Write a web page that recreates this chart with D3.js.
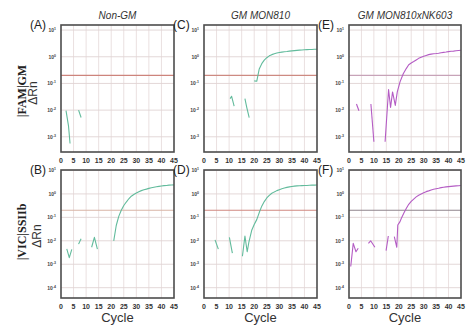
<!DOCTYPE html>
<html><head><meta charset="utf-8">
<script src="https://cdn.jsdelivr.net/npm/d3@7"></script>
<style>body{margin:0;background:#fff}svg{display:block}</style>
</head><body>
<svg id="c" width="474" height="332"></svg>
<script>
// ---- data ----
const columnTitles = ["Non-GM", "GM MON810", "GM MON810xNK603"];
const rowLabels = ["|FAM|GM", "|VIC|SSIIb"];
const panelLetters = ["A", "C", "E", "B", "D", "F"];
const xTicks = [0, 5, 10, 15, 20, 25, 30, 35, 40, 45];
const yTicksTop = [1, 0, -1, -2, -3];
const yTicksBottom = [1, 0, -1, -2, -3, -4];
const threshold = 0.2;
// segments of [cycle, ΔRn]
const panelA = [
  [[2, 0.0095], [3, 0.0025], [3.6, 0.00056]],
  [[7, 0.01], [8, 0.0053]]
];
const panelC = [
  [[10.4, 0.027], [11, 0.033], [12, 0.014]],
  [[16.3, 0.027], [17, 0.013], [18, 0.0052]],
  [[20, 0.125], [21, 0.12], [22, 0.35], [23, 0.55], [24, 0.75], [25, 0.92], [26, 1.08], [27, 1.2], [28, 1.3], [29, 1.38], [30, 1.44], [31, 1.49], [32, 1.53], [33, 1.57], [34, 1.62], [35, 1.66], [36, 1.7], [37, 1.74], [38, 1.77], [39, 1.8], [40, 1.83], [41, 1.85], [42, 1.87], [43, 1.88], [44, 1.9], [45, 1.91]]
];
const panelE = [
  [[3, 0.017], [4, 0.0095]],
  [[8.8, 0.017], [10, 0.00065]],
  [[14.5, 0.00065], [15.9, 0.059], [16.7, 0.0125], [17.5, 0.048], [18.6, 0.015], [19.4, 0.048], [20.5, 0.114], [21.8, 0.23], [23, 0.36], [24, 0.5], [25, 0.58], [26, 0.66], [27, 0.76], [28, 0.87], [29, 0.96], [30, 1.05], [31, 1.12], [32, 1.2], [33, 1.25], [34, 1.29], [35, 1.32], [36, 1.36], [37, 1.42], [38, 1.46], [39, 1.5], [40, 1.56], [41, 1.6], [42, 1.63], [43, 1.67], [44, 1.71], [45, 1.75]]
];
const panelB = [
  [[2.3, 0.0045], [3.3, 0.0019], [4.3, 0.0043]],
  [[7, 0.0072], [8, 0.0123]],
  [[12.2, 0.0053], [13.3, 0.014], [14.5, 0.0044]],
  [[21, 0.01], [22, 0.045], [23, 0.11], [24, 0.2], [25, 0.32], [26, 0.45], [27, 0.62], [28, 0.8], [29, 0.95], [30, 1.1], [31, 1.25], [32, 1.38], [33, 1.5], [34, 1.6], [35, 1.72], [36, 1.82], [37, 1.93], [38, 2.02], [39, 2.1], [40, 2.18], [41, 2.25], [42, 2.3], [43, 2.36], [44, 2.4], [45, 2.43]]
];
const panelD = [
  [[4.4, 0.011], [5.7, 0.0044]],
  [[10.1, 0.014], [11.3, 0.003]],
  [[15.3, 0.0022], [16.3, 0.016], [17.2, 0.0034], [17.9, 0.0091], [19, 0.028], [20, 0.05], [21, 0.08], [22, 0.16], [23, 0.3], [24, 0.47], [25, 0.67], [26, 0.87], [27, 1.07], [28, 1.22], [29, 1.38], [30, 1.52], [31, 1.65], [32, 1.78], [33, 1.9], [34, 2.0], [35, 2.08], [36, 2.15], [37, 2.2], [38, 2.23], [39, 2.25], [40, 2.27], [41, 2.3], [42, 2.33], [43, 2.36], [44, 2.38], [45, 2.4]]
];
const panelF = [
  [[0.7, 0.0008], [1.7, 0.0078], [2.8, 0.0034], [3.7, 0.0048]],
  [[7.8, 0.0078], [8.7, 0.01], [10.4, 0.0053]],
  [[14.9, 0.0038], [15.8, 0.016]],
  [[18.2, 0.015], [19.2, 0.0053], [19.6, 0.047], [20.5, 0.066], [21, 0.09], [22, 0.15], [23, 0.24], [24, 0.36], [25, 0.48], [26, 0.6], [27, 0.75], [28, 0.88], [29, 1.0], [30, 1.12], [31, 1.25], [32, 1.35], [33, 1.47], [34, 1.58], [35, 1.67], [36, 1.75], [37, 1.85], [38, 1.93], [39, 2.0], [40, 2.05], [41, 2.1], [42, 2.15], [43, 2.2], [44, 2.23], [45, 2.27]]
];

// ---- layout ----
const green = "#62bb9c", magenta = "#b45cc4";
const colX = [61, 204, 349];
const colW = [113, 113, 112];
const rowY = [[25, 152], [170, 298]];
const rowDomain = [[-3.57, 1.19], [-4.44, 1.02]];
const panels = [
  {L: "A", c: 0, r: 0, data: panelA, color: green, th: "#cd847c"},
  {L: "C", c: 1, r: 0, data: panelC, color: green, th: "#cd8a82"},
  {L: "E", c: 2, r: 0, data: panelE, color: magenta, th: "#c7a3b8"},
  {L: "B", c: 0, r: 1, data: panelB, color: green, th: "#d8b4a6"},
  {L: "D", c: 1, r: 1, data: panelD, color: green, th: "#d08880"},
  {L: "F", c: 2, r: 1, data: panelF, color: magenta, th: "#8f858c"}
];

const svg = d3.select("#c");
const font = "Arial, 'Liberation Sans', sans-serif";

panels.forEach(p => {
  const x0 = colX[p.c], x1 = colX[p.c] + colW[p.c];
  const [y0, y1] = rowY[p.r];
  const x = d3.scaleLinear().domain([0, 45]).range([x0, x1]);
  const y = d3.scaleLog().domain(rowDomain[p.r].map(v => Math.pow(10, v))).range([y1, y0]);
  const yt = p.r === 0 ? yTicksTop : yTicksBottom;
  const g = svg.append("g");
  // grid
  g.selectAll(".vg").data(xTicks.slice(1, -1)).join("line")
    .attr("x1", d => x(d)).attr("x2", d => x(d)).attr("y1", y0).attr("y2", y1)
    .attr("stroke", "#e8dcdc").attr("stroke-width", 0.9);
  g.selectAll(".hg").data(yt).join("line")
    .attr("x1", x0).attr("x2", x1).attr("y1", d => y(Math.pow(10, d))).attr("y2", d => y(Math.pow(10, d)))
    .attr("stroke", "#e0d4d4").attr("stroke-width", 0.9);
  // threshold
  g.append("line").attr("x1", x0).attr("x2", x1).attr("y1", y(threshold)).attr("y2", y(threshold))
    .attr("stroke", p.th).attr("stroke-width", 1.1);
  // curves
  const line = d3.line().x(d => x(d[0])).y(d => y(d[1]));
  g.selectAll(".seg").data(p.data).join("path")
    .attr("d", line).attr("fill", "none").attr("stroke", p.color).attr("stroke-width", 1.1)
    .attr("stroke-linejoin", "round");
  // frame
  g.append("rect").attr("x", x0).attr("y", y0).attr("width", x1 - x0).attr("height", y1 - y0)
    .attr("fill", "none").attr("stroke", "#4d4d4d").attr("stroke-width", 1.6);
  // x tick labels
  g.selectAll(".xt").data(xTicks).join("text")
    .attr("x", d => x(d)).attr("y", y1 + 11).attr("text-anchor", "middle")
    .attr("font-family", font).attr("font-size", 7).attr("font-weight", "bold").attr("fill", "#333")
    .text(d => d);
  // y tick labels
  const yl = g.selectAll(".yt").data(yt).join("text")
    .attr("x", x0 - 5).attr("y", d => y(Math.pow(10, d)) + 2).attr("text-anchor", "end")
    .attr("font-family", font).attr("font-size", 5).attr("font-weight", "bold").attr("fill", "#444");
  yl.append("tspan").text("10");
  yl.append("tspan").attr("dy", -2).attr("font-size", 3.5).text(d => d < 0 ? "-" + (-d) : d);
  // panel letter
  g.append("text").attr("x", x0 - 31).attr("y", y0 + 4).attr("font-family", font).attr("font-size", 12)
    .attr("fill", "#222").text("(" + p.L + ")");
  // column title
  if (p.r === 0) {
    g.append("text").attr("x", (x0 + x1) / 2).attr("y", 19).attr("text-anchor", "middle")
      .attr("font-family", font).attr("font-size", 10).attr("font-style", "italic").attr("fill", "#333")
      .text(columnTitles[p.c]);
  } else {
    g.append("text").attr("x", (x0 + x1) / 2).attr("y", 322).attr("text-anchor", "middle")
      .attr("font-family", font).attr("font-size", 13).attr("fill", "#333").text("Cycle");
  }
});

// row labels
const rowCenters = [[22, 91, 33, 93], [22, 232, 37, 236]];
rowLabels.forEach((t, i) => {
  const [lx, ly, dx, dy] = rowCenters[i];
  svg.append("text").attr("transform", `translate(${lx + 4},${ly}) rotate(-90)`)
    .attr("text-anchor", "middle").attr("font-family", "'Liberation Serif', 'Times New Roman', serif")
    .attr("font-weight", "bold").attr("font-size", 12).attr("fill", "#222").text(t);
  svg.append("text").attr("transform", `translate(${dx + 4},${dy}) rotate(-90)`)
    .attr("text-anchor", "middle").attr("font-family", font)
    .attr("font-size", 12).attr("fill", "#333").text("ΔRn");
});
</script>
</body></html>
